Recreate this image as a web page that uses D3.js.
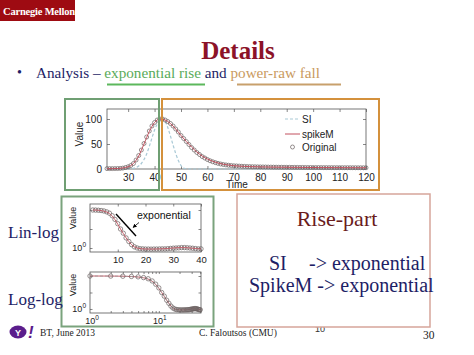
<!DOCTYPE html>
<html><head><meta charset="utf-8">
<script src="https://cdn.jsdelivr.net/npm/d3@7"></script>
<style>body{margin:0;background:#fff}svg{display:block}</style></head>
<body>
<script>
// ---------- data ----------
const originalTimes = d3.range(22, 121);
const originalValues = [
  0.8,0.8,0.8,0.9,1,1.2,1.8,3,
  4.5,7,11,18,27,38,51,64,76,86,
  93,98,100,100,98,95,91,86,80,74,
  67,61,55,49,43,38,33,29,25,22,
  19,16.5,14.5,12.8,11.3,10,9,8.2,7.5,7,
  6.5,6.1,5.8,5.5,5.2,5,4.8,4.6,4.5,4.3,
  4.2,4.1,4,3.9,3.8,3.7,3.6,3.55,3.5,3.45,
  3.4,3.35,3.3,3.25,3.2,3.15,3.1,3.05,3,3,
  2.95,2.9,2.9,2.85,2.8,2.8,2.75,2.75,2.7,2.7,
  2.65,2.65,2.6,2.6,2.6,2.55,2.55,2.5,2.5,2.5,2.5
];
const spikeTimes = d3.range(22, 121, 2);
const spikeValues = [
  0.5,0.7,1,2,4.5,11,26,50,75,93,
  100,98,91,80,67,55,44,34,26,20,
  15.5,12,9.5,7.8,6.6,5.8,5.2,4.8,4.5,4.2,
  4,3.8,3.7,3.55,3.45,3.35,3.25,3.15,3.05,3,
  2.9,2.85,2.8,2.75,2.7,2.65,2.6,2.55,2.5,2.5
];
const siTimes  = [22,28,30,32,33,34,35,36,37,38,39,40,41,42,43,44,45,46,47,48,49,50,51,52,54,60,120];
const siValues = [0,0,0.4,1.5,3,6,11,19,30,45,62,78,90,97,100,95,83,66,48,31,17,7,2,0.5,0,0,0];
const topXTicks = [30,40,50,60,70,80,90,100,110,120];
const topYTicks = [0,50,100];

// rise part, distance from peak (1..40)
const riseDist = d3.range(1, 41);
const riseValues = [
  100,99,97,94,89,80,68,50,32,19,
  10,6,3.4,2.2,1.5,1.15,1.0,0.92,0.9,0.88,
  0.88,0.87,0.88,0.88,0.89,0.9,0.9,0.92,0.95,0.98,
  1.0,1.02,1.05,1.05,1.03,1.0,0.97,0.93,0.9,0.9
];
const riseSpike = [
  100,99,97,93,87,78,65,48,31,18,
  10,5.8,3.4,2.2,1.5,1.15,1.0,0.93,0.9,0.89,
  0.88,0.88,0.88,0.89,0.9,0.91,0.92,0.94,0.97,1.0,
  1.02,1.04,1.05,1.05,1.03,1.0,0.97,0.94,0.91,0.9
];
const linLogXTicks = [10,20,30,40];

// ---------- drawing ----------
const W = 474, H = 355;
const svg = d3.select("body").append("svg").attr("width", W).attr("height", H)
  .style("font-family", "'Liberation Serif', 'Times New Roman', serif");
svg.append("rect").attr("width", W).attr("height", H).attr("fill", "#fff");

const NAVY = "#1e1e66";
const SANS = "'Liberation Sans', Arial, Helvetica, sans-serif";

// header
svg.append("rect").attr("x",0).attr("y",0).attr("width",75).attr("height",21).attr("fill","#9e0b12");
svg.append("text").attr("x",3).attr("y",14.5).attr("fill","#fff").attr("font-weight","bold")
  .attr("font-size",10.5).attr("letter-spacing",-0.2).text("Carnegie Mellon");

svg.append("text").attr("x",238).attr("y",59).attr("text-anchor","middle").attr("fill","#8c1228")
  .attr("font-weight","bold").attr("font-size",25).text("Details");

// bullet line
svg.append("text").attr("x",17).attr("y",77).attr("fill",NAVY).attr("font-size",14).text("•");
const bl = svg.append("text").attr("x",36).attr("y",78).attr("font-size",15.2).attr("fill",NAVY);
bl.append("tspan").text("Analysis – ");
bl.append("tspan").attr("fill","#5aab5a").text("exponential rise");
bl.append("tspan").text(" and ");
bl.append("tspan").attr("fill","#c99a60").text("power-raw fall");
svg.append("line").attr("x1",107).attr("x2",205).attr("y1",84.5).attr("y2",84.5).attr("stroke","#5cb85c").attr("stroke-width",2);
svg.append("line").attr("x1",237).attr("x2",341).attr("y1",84.5).attr("y2",84.5).attr("stroke","#c8a06c").attr("stroke-width",2);

// ---------- top chart ----------
const x = d3.scaleLinear().domain([22,120]).range([107,366]);
const y = d3.scaleLinear().domain([0,120]).range([169,109]);
const g = svg.append("g").style("font-family", SANS);

function styleAxis(sel){
  sel.select(".domain").remove();
  sel.selectAll(".tick line").attr("stroke","#555").attr("stroke-width",0.7);
  sel.selectAll(".tick text").attr("fill","#222").style("font-family",SANS);
}
g.append("g").attr("transform",`translate(0,${y(0)})`)
  .call(d3.axisBottom(x).tickValues(topXTicks).tickSizeInner(-3).tickSizeOuter(0).tickPadding(5))
  .attr("font-size",10).call(styleAxis);
g.append("g").attr("transform",`translate(0,${y(120)})`)
  .call(d3.axisTop(x).tickValues(topXTicks).tickSizeInner(-3).tickSizeOuter(0).tickFormat(""))
  .call(styleAxis);
g.append("g").attr("transform",`translate(${x(22)},0)`)
  .call(d3.axisLeft(y).tickValues(topYTicks).tickSizeInner(-3).tickSizeOuter(0).tickPadding(5))
  .attr("font-size",10).call(styleAxis);
g.append("g").attr("transform",`translate(${x(120)},0)`)
  .call(d3.axisRight(y).tickValues(topYTicks).tickSizeInner(-3).tickSizeOuter(0).tickFormat(""))
  .call(styleAxis);
g.append("rect").attr("x",x(22)).attr("y",y(120)).attr("width",x(120)-x(22)).attr("height",y(0)-y(120))
  .attr("fill","none").attr("stroke","#555").attr("stroke-width",0.8);

const lineTop = d3.line().x(d=>x(d[0])).y(d=>y(d[1])).curve(d3.curveMonotoneX);
g.append("path").datum(d3.zip(siTimes, siValues)).attr("d", lineTop)
  .attr("fill","none").attr("stroke","#a9c9d6").attr("stroke-width",1.2).attr("stroke-dasharray","3,2");
g.append("g").selectAll("circle").data(d3.zip(originalTimes, originalValues)).join("circle")
  .attr("cx",d=>x(d[0])).attr("cy",d=>y(d[1])).attr("r",2)
  .attr("fill","none").attr("stroke","#6a6060").attr("stroke-width",0.7);
g.append("path").datum(d3.zip(spikeTimes, spikeValues)).attr("d", lineTop)
  .attr("fill","none").attr("stroke","#c2505e").attr("stroke-width",1);

g.append("text").attr("x",237).attr("y",188).attr("text-anchor","middle").attr("font-size",10).attr("fill","#222").text("Time");
g.append("text").attr("transform","translate(83,134) rotate(-90)").attr("text-anchor","middle")
  .attr("font-size",10).attr("fill","#222").text("Value");

// legend
const lg = g.append("g").attr("font-size",10).attr("fill","#222");
lg.append("line").attr("x1",285).attr("x2",300).attr("y1",119).attr("y2",119)
  .attr("stroke","#a9c9d6").attr("stroke-width",1.2).attr("stroke-dasharray","3,2");
lg.append("text").attr("x",302).attr("y",122.5).text("SI");
lg.append("line").attr("x1",285).attr("x2",300).attr("y1",134).attr("y2",134)
  .attr("stroke","#c2505e").attr("stroke-width",1);
lg.append("text").attr("x",302).attr("y",137.5).text("spikeM");
lg.append("circle").attr("cx",292.5).attr("cy",147).attr("r",2).attr("fill","none").attr("stroke","#6a6060").attr("stroke-width",0.7);
lg.append("text").attr("x",302).attr("y",150.5).text("Original");

// highlight boxes
svg.append("rect").attr("x",65).attr("y",99).attr("width",94).attr("height",91)
  .attr("fill","none").attr("stroke","#6f9f73").attr("stroke-width",2);
svg.append("rect").attr("x",162).attr("y",99).attr("width",217).attr("height",91)
  .attr("fill","none").attr("stroke","#d4913c").attr("stroke-width",2);

// ---------- lower-left box ----------
svg.append("rect").attr("x",61.5).attr("y",196.5).attr("width",152).attr("height",130)
  .attr("fill","none").attr("stroke","#7aa37d").attr("stroke-width",2);

svg.append("text").attr("x",8).attr("y",238).attr("font-size",17).attr("fill",NAVY).text("Lin-log");
svg.append("text").attr("x",8).attr("y",305).attr("font-size",17).attr("fill",NAVY).text("Log-log");

function supLabel(sel, x0, y0, base, exp, anchor){
  const t = sel.append("text").attr("x",x0).attr("y",y0).attr("font-size",9).attr("fill","#222")
    .attr("text-anchor",anchor).style("font-family",SANS);
  t.append("tspan").text(base);
  t.append("tspan").attr("dy",-4).attr("font-size",6.5).text(exp);
}

// lin-log
const xl = d3.scaleLinear().domain([0,40]).range([90,201]);
const yl = d3.scaleLog().domain([0.616,207]).range([252,204]);
const gl = svg.append("g").style("font-family",SANS);
gl.append("g").attr("transform",`translate(0,252)`)
  .call(d3.axisBottom(xl).tickValues(linLogXTicks).tickSizeInner(-2.5).tickSizeOuter(0).tickPadding(4))
  .attr("font-size",9.5).call(styleAxis);
gl.append("g").attr("transform",`translate(0,204)`)
  .call(d3.axisTop(xl).tickValues(linLogXTicks).tickSizeInner(-2.5).tickSizeOuter(0).tickFormat(""))
  .call(styleAxis);
gl.append("g").attr("transform",`translate(90,0)`)
  .call(d3.axisLeft(yl).tickValues([1,10,100]).tickSizeInner(-2.5).tickSizeOuter(0).tickFormat(""))
  .call(styleAxis);
gl.append("g").attr("transform",`translate(201,0)`)
  .call(d3.axisRight(yl).tickValues([1,10,100]).tickSizeInner(-2.5).tickSizeOuter(0).tickFormat(""))
  .call(styleAxis);
gl.append("rect").attr("x",90).attr("y",204).attr("width",111).attr("height",48)
  .attr("fill","none").attr("stroke","#555").attr("stroke-width",0.8);
gl.append("g").selectAll("circle").data(d3.zip(riseDist, riseValues)).join("circle")
  .attr("cx",d=>xl(d[0])).attr("cy",d=>yl(d[1])).attr("r",2.2)
  .attr("fill","none").attr("stroke","#6a6060").attr("stroke-width",0.7);
gl.append("path").datum(d3.zip(riseDist, riseSpike))
  .attr("d", d3.line().x(d=>xl(d[0])).y(d=>yl(d[1])).curve(d3.curveMonotoneX))
  .attr("fill","none").attr("stroke","#c2505e").attr("stroke-width",0.9);
supLabel(gl, 86, 251, "10", "0", "end");
gl.append("text").attr("transform","translate(76,218) rotate(-90)").attr("text-anchor","middle")
  .attr("font-size",9).attr("fill","#222").text("Value");
// annotation
gl.append("line").attr("x1",116).attr("y1",214).attr("x2",136).attr("y2",236).attr("stroke","#000").attr("stroke-width",1.4);
svg.append("defs").append("marker").attr("id","ah").attr("viewBox","0 0 10 10").attr("refX",9).attr("refY",5)
  .attr("markerWidth",5).attr("markerHeight",5).attr("orient","auto")
  .append("path").attr("d","M0,0L10,5L0,10z").attr("fill","#000");
gl.append("line").attr("x1",139).attr("y1",222.5).attr("x2",133).attr("y2",227.5)
  .attr("stroke","#000").attr("stroke-width",0.8).attr("marker-end","url(#ah)");
gl.append("text").attr("x",137).attr("y",219).attr("font-size",10.5).attr("fill","#111").text("exponential");

// log-log
const xg = d3.scaleLog().domain([1,41]).range([90,201]);
const yg = d3.scaleLog().domain([0.57,175]).range([313,272]);
const gg = svg.append("g").style("font-family",SANS);
const minorX = [2,3,4,5,6,7,8,9,10,20,30,40];
gg.append("g").attr("transform",`translate(0,313)`)
  .call(d3.axisBottom(xg).tickValues(minorX).tickSizeInner(-2).tickSizeOuter(0).tickFormat(""))
  .call(styleAxis);
gg.append("g").attr("transform",`translate(0,272)`)
  .call(d3.axisTop(xg).tickValues(minorX).tickSizeInner(-2).tickSizeOuter(0).tickFormat(""))
  .call(styleAxis);
gg.append("g").attr("transform",`translate(90,0)`)
  .call(d3.axisLeft(yg).tickValues([1,10,100]).tickSizeInner(-2.5).tickSizeOuter(0).tickFormat(""))
  .call(styleAxis);
gg.append("g").attr("transform",`translate(201,0)`)
  .call(d3.axisRight(yg).tickValues([1,10,100]).tickSizeInner(-2.5).tickSizeOuter(0).tickFormat(""))
  .call(styleAxis);
gg.append("rect").attr("x",90).attr("y",272).attr("width",111).attr("height",41)
  .attr("fill","none").attr("stroke","#555").attr("stroke-width",0.8);
gg.append("path").datum(d3.zip(riseDist, riseSpike))
  .attr("d", d3.line().x(d=>xg(d[0])).y(d=>yg(d[1])).curve(d3.curveMonotoneX))
  .attr("fill","none").attr("stroke","#c2505e").attr("stroke-width",0.9);
gg.append("path").datum(d3.zip(riseDist, riseValues))
  .attr("d", d3.line().x(d=>xg(d[0])).y(d=>yg(d[1])))
  .attr("fill","none").attr("stroke","#999").attr("stroke-width",0.8).attr("stroke-dasharray","3,2");
gg.append("g").selectAll("circle").data(d3.zip(riseDist, riseValues)).join("circle")
  .attr("cx",d=>xg(d[0])).attr("cy",d=>yg(d[1])).attr("r",2.2)
  .attr("fill","none").attr("stroke","#6a6060").attr("stroke-width",0.7);
supLabel(gg, 86, 312, "10", "0", "end");
supLabel(gg, xg(1)+2, 324, "10", "0", "middle");
supLabel(gg, xg(10)+1, 324, "10", "1", "middle");
gg.append("text").attr("transform","translate(76,285) rotate(-90)").attr("text-anchor","middle")
  .attr("font-size",9).attr("fill","#222").text("Value");

// partial label peeking below the text box
svg.append("text").attr("x",320).attr("y",332).attr("text-anchor","middle").attr("font-size",9)
  .attr("fill","#333").style("font-family",SANS).text("10");

// ---------- Rise-part box ----------
svg.append("rect").attr("x",237).attr("y",194).attr("width",193).attr("height",133)
  .attr("fill","#fff").attr("stroke","#d6a59a").attr("stroke-width",1.5);
svg.append("text").attr("x",337).attr("y",226).attr("text-anchor","middle").attr("font-size",22)
  .attr("fill","#6a1c1c").text("Rise-part");
svg.append("text").attr("x",269).attr("y",270).attr("font-size",20).attr("fill",NAVY).text("SI");
svg.append("text").attr("x",309).attr("y",270).attr("font-size",20).attr("fill",NAVY).text("-> exponential");
svg.append("text").attr("x",249).attr("y",292).attr("font-size",20).attr("fill",NAVY).text("SpikeM -> exponential");

// ---------- footer ----------
svg.append("ellipse").attr("cx",18).attr("cy",332).attr("rx",8.5).attr("ry",6.5).attr("fill","#5b1d8c");
svg.append("text").attr("x",18).attr("y",335.5).attr("text-anchor","middle").attr("font-size",9)
  .attr("font-weight","bold").attr("fill","#fff").style("font-family",SANS).text("Y");
svg.append("text").attr("x",28).attr("y",338).attr("font-size",17).attr("font-weight","bold")
  .attr("font-style","italic").attr("fill","#5b1d8c").style("font-family",SANS).text("!");
svg.append("text").attr("x",40).attr("y",336).attr("font-size",9.5).attr("fill","#222").text("BT, June 2013");
svg.append("text").attr("x",199).attr("y",336).attr("font-size",9.5).attr("fill","#222").text("C. Faloutsos (CMU)");
svg.append("text").attr("x",423).attr("y",339).attr("font-size",11.5).attr("fill","#222").text("30");
</script>
</body></html>
